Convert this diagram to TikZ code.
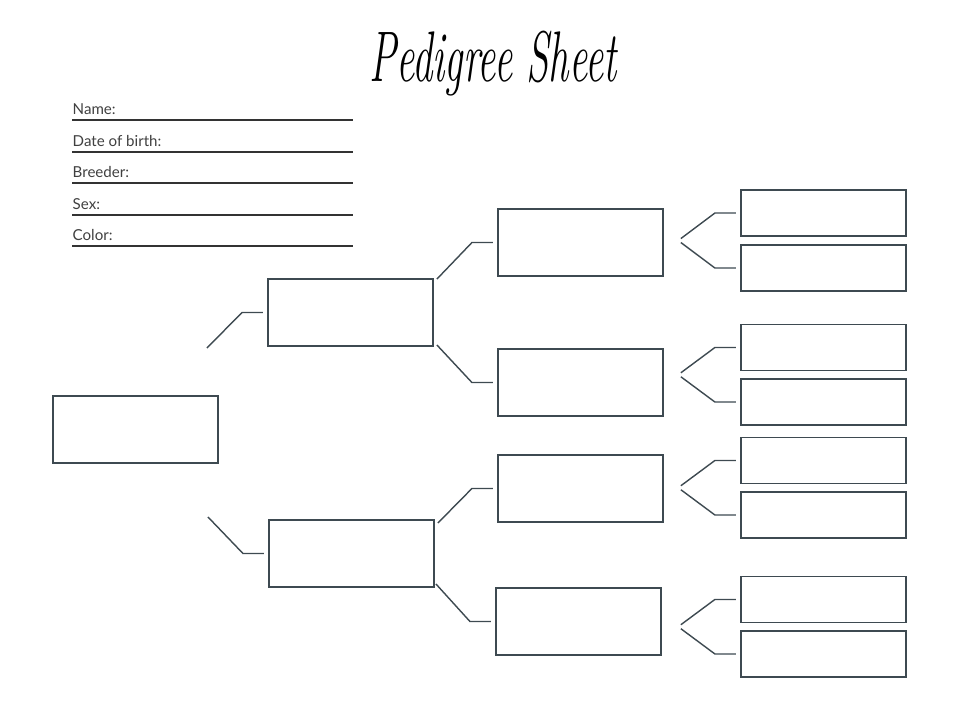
\documentclass[tikz,border=0pt]{standalone}
\usepackage{fontspec}
\newfontfamily\fieldfont{Lato}
\usetikzlibrary{calc,positioning}
\definecolor{boxgray}{HTML}{3E4A51}
\definecolor{rulegray}{HTML}{333333}
\definecolor{textgray}{HTML}{404040}
\tikzset{PED style/.style={x=0.02cm,y=-0.02cm,line width=0.8pt},
	bigbox/.style={draw=boxgray,rectangle,minimum width=3.3cm,minimum height=1.34cm,inner sep=0,outer sep=0},
	smallbox/.style={bigbox,minimum height=0.92cm},
	elbow/.style={draw=boxgray,to path={-- ($(\tikztotarget)+(-26,0)$) -- ($(\tikztotarget)+(-5,0)$)}},
	field/.style={anchor=base west,inner sep=0,text=textgray,font=\fieldfont\fontsize{8.6}{10}\selectfont}}
\newcommand{\titlefont}{\fontsize{34}{34}\selectfont\itshape}

\begin{document}
\begin{tikzpicture}[PED style]
	\useasboundingbox (0,0) rectangle (960,720);

	\node[font=\titlefont, anchor=base, xscale=0.68, yscale=1.2, transform shape] (title) at (493,81) {Pedigree Sheet};

	% form fields
	\foreach \lab/\y [count=\i] in {Name:/120, Date of birth:/152, Breeder:/183, Sex:/215, Color:/246}{
		\node[field] (f\i) at (72,\y-5.5) {\lab};
		\draw[rulegray] (f\i.base west) ++(0,5.5) -- ++(281,0);
	}

	% the animal
	\node[bigbox] at (135.5,429.5) (p0) {};
	% parents
	\node[bigbox] [right = 1cm of p0, yshift = 2.34cm] (s) {};
	\node[bigbox] [right = 1.02cm of p0, yshift = -2.48cm] (d) {};
	% grandparents
	\node[bigbox] [right = 1.3cm of s, yshift = 1.4cm] (ss) {};
	\node[bigbox] [right = 1.3cm of s, yshift = -1.4cm] (sd) {};
	\node[bigbox] [right = 1.28cm of d, yshift = 1.3cm] (ds) {};
	\node[bigbox] [right = 1.24cm of d, yshift = -1.36cm] (dd) {};
	% great-grandparents
	\node[smallbox] [right = 1.56cm of ss, yshift = 0.59cm] (sss) {};
	\node[smallbox] [right = 1.56cm of ss, yshift = -0.51cm] (ssd) {};
	\node[smallbox] [right = 1.56cm of sd, yshift = 0.7cm] (sds) {};
	\node[smallbox] [right = 1.56cm of sd, yshift = -0.39cm] (sdd) {};
	\node[smallbox] [right = 1.56cm of ds, yshift = 0.56cm] (dss) {};
	\node[smallbox] [right = 1.56cm of ds, yshift = -0.53cm] (dsd) {};
	\node[smallbox] [right = 1.6cm of dd, yshift = 0.44cm] (dds) {};
	\node[smallbox] [right = 1.6cm of dd, yshift = -0.65cm] (ddd) {};

	\path
	($(p0.north east)+(-11,-48)$) edge[elbow] (s.west)
	($(p0.south east)+(-10,54)$) edge[elbow] (d.west)
	($(s.north east)+(4,0)$) edge[elbow] (ss.west)
	($(s.south east)+(4,-1)$) edge[elbow] (sd.west)
	($(d.north east)+(4,3)$) edge[elbow] (ds.west)
	($(d.south east)+(2,-3)$) edge[elbow] (dd.west)
	($(sss.west)!0.5!(ssd.west)+(-60,-2)$) edge[elbow] (sss.west)
	($(sss.west)!0.5!(ssd.west)+(-60,2)$) edge[elbow] (ssd.west)
	($(sds.west)!0.5!(sdd.west)+(-60,-2)$) edge[elbow] (sds.west)
	($(sds.west)!0.5!(sdd.west)+(-60,2)$) edge[elbow] (sdd.west)
	($(dss.west)!0.5!(dsd.west)+(-60,-2)$) edge[elbow] (dss.west)
	($(dss.west)!0.5!(dsd.west)+(-60,2)$) edge[elbow] (dsd.west)
	($(dds.west)!0.5!(ddd.west)+(-60,-2)$) edge[elbow] (dds.west)
	($(dds.west)!0.5!(ddd.west)+(-60,2)$) edge[elbow] (ddd.west)
	;
\end{tikzpicture}
\end{document}
